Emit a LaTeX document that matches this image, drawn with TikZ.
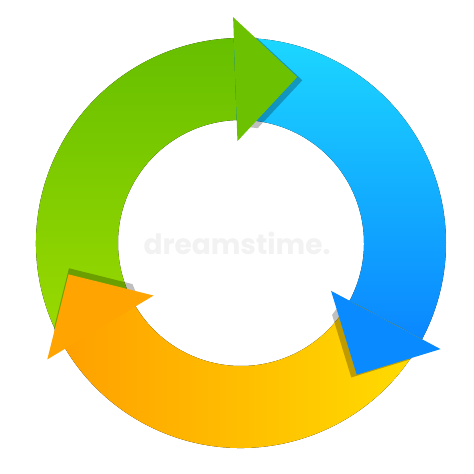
\documentclass[tikz,border=0pt]{standalone}
\usepackage{fontspec}
\newfontfamily\wmfont{Poppins}
\definecolor{gtop}{HTML}{66BF00}
\definecolor{gbot}{HTML}{9CDB00}
\definecolor{btop}{HTML}{1CD8FF}
\definecolor{bbot}{HTML}{0A86FF}
\definecolor{oleft}{HTML}{FFA000}
\definecolor{oright}{HTML}{FFDD00}
\definecolor{ghead}{HTML}{6CC200}
\definecolor{bhead}{HTML}{0A8AFF}
\definecolor{ohead}{HTML}{FFA400}
\newcommand\ringbody[3]{%
  \fill[#3] (#1:205pt) arc[start angle=#1, end angle=#2, radius=205pt]
    -- (#2:123pt) arc[start angle=#2, end angle=#1, radius=123pt] -- cycle;}
\newcommand\arrowtip[2]{%
  \fill[#2] (#1:226pt) -- ({#1-20.7}:175.3pt) -- (#1:102pt) -- cycle;}
\newcommand\tipshadow[1]{%
  \begin{scope}
    \clip (0:206pt) arc[start angle=0, end angle=360, radius=206pt]
      -- (0:116pt) arc[start angle=360, end angle=0, radius=116pt] -- cycle;
    \fill[black, opacity=0.25, shift={({#1-90}:5pt)}, shift={({#1+180}:3.5pt)}]
      (#1:226pt) -- ({#1-20.7}:175.3pt) -- (#1:102pt) -- cycle;
  \end{scope}}
\begin{document}
\begin{tikzpicture}
\useasboundingbox (-241pt,-231pt) rectangle (233pt,243pt);
\fill[white] (-241pt,-231pt) rectangle (233pt,243pt);
% watermark
\node[text=black!5, font=\wmfont\bfseries\fontsize{28}{30}\selectfont] (wm) at (-4pt,0pt) {dreamstime.};
% bodies
\ringbody{211}{91}{top color=gtop, bottom color=gbot}
\ringbody{92}{-29}{top color=btop, bottom color=bbot}
\ringbody{-28}{-150}{left color=oleft, right color=oright}
% shadows
\tipshadow{92}
\tipshadow{-28}
\tipshadow{211}
% heads
\arrowtip{92}{ghead}
\arrowtip{-28}{bhead}
\arrowtip{211}{ohead}
\end{tikzpicture}
\end{document}
